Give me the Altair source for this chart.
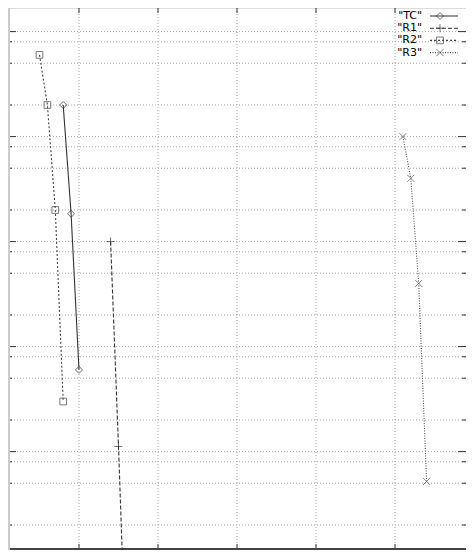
import altair as alt
import pandas as pd

# ---------------- data ----------------
series_names = ["TC", "R1", "R2", "R3"]
tc_x = [0.8, 0.9, 1.0]
tc_y = [10.0, 0.92, 0.030]
r1_x = [1.4, 1.5, 1.6]
r1_y = [0.50, 0.0056, 0.00004]
r2_x = [0.5, 0.6, 0.7, 0.8]
r2_y = [30.0, 10.0, 1.0, 0.015]
r3_x = [5.1, 5.2, 5.3, 5.4]
r3_y = [5.0, 2.0, 0.20, 0.0026]

x_grid = [1, 2, 3, 4, 5]
y_grid = [50, 40, 25, 10, 5, 4, 2.5, 1, 0.5, 0.4, 0.25, 0.1,
          0.05, 0.04, 0.025, 0.01, 0.005, 0.004, 0.0025, 0.001]
y_major = [50, 5, 0.5, 0.05, 0.005]
y_minor = [v for v in y_grid if v not in y_major]

# ---------------- layout / style ----------------
W, H = 458, 542
x_domain = [0.1013, 5.8987]
y_domain = [5.78e-4, 83.9]

xs = alt.Scale(domain=x_domain, nice=False, zero=False)
ys = alt.Scale(type="log", domain=y_domain, nice=False)

dashes = {"TC": [1, 0], "R1": [4, 2], "R2": [2, 2], "R3": [1, 1.5]}
colors = {"TC": "#333333", "R1": "#333333", "R2": "#444444", "R3": "#555555"}
PLUS = "M-1,0H1M0,-1V1"
XMARK = "M-1,-1L1,1M-1,1L1,-1"
shapes = {"TC": "diamond", "R1": PLUS, "R2": "square", "R3": XMARK}
sizes = {"TC": 49, "R1": 64, "R2": 45, "R3": 49}
grid_color = "#a8a8a8"

rows = []
for name, xv, yv in [("TC", tc_x, tc_y), ("R1", r1_x, r1_y),
                     ("R2", r2_x, r2_y), ("R3", r3_x, r3_y)]:
    for a, b in zip(xv, yv):
        rows.append({"series": name, "x": a, "y": b})
df = pd.DataFrame(rows)

layers = []

# grid lines (dotted)
ygd = pd.DataFrame({"v": y_grid})
xgd = pd.DataFrame({"v": x_grid})
layers.append(alt.Chart(ygd).mark_rule(color=grid_color, strokeWidth=1, strokeDash=[1, 2]).encode(
    y=alt.Y("v:Q", scale=ys, axis=None), x=alt.value(0), x2=alt.value(W)))
layers.append(alt.Chart(xgd).mark_rule(color=grid_color, strokeWidth=1, strokeDash=[1, 2]).encode(
    x=alt.X("v:Q", scale=xs, axis=None), y=alt.value(0), y2=alt.value(H)))

# frame ticks (inward, like gnuplot)
ymaj = pd.DataFrame({"v": y_major})
ymin = pd.DataFrame({"v": y_minor})
tick_color = "#333333"
for data, length in [(ymaj, 8), (ymin, 4)]:
    layers.append(alt.Chart(data).mark_rule(color=tick_color, strokeWidth=1).encode(
        y=alt.Y("v:Q", scale=ys, axis=None), x=alt.value(0), x2=alt.value(length)))
    layers.append(alt.Chart(data).mark_rule(color=tick_color, strokeWidth=1).encode(
        y=alt.Y("v:Q", scale=ys, axis=None), x=alt.value(W), x2=alt.value(W - length)))
layers.append(alt.Chart(xgd).mark_rule(color=tick_color, strokeWidth=1).encode(
    x=alt.X("v:Q", scale=xs, axis=None), y=alt.value(0), y2=alt.value(5)))
layers.append(alt.Chart(xgd).mark_rule(color=tick_color, strokeWidth=1).encode(
    x=alt.X("v:Q", scale=xs, axis=None), y=alt.value(H), y2=alt.value(H - 6)))

frame = pd.DataFrame({"edge": ["frame"]})
layers.append(alt.Chart(frame).mark_rule(color="#444444", strokeWidth=2).encode(
    x=alt.value(0), x2=alt.value(W), y=alt.value(H - 1)))
layers.append(alt.Chart(frame).mark_rule(color="#cccccc", strokeWidth=2).encode(
    x=alt.value(1), y=alt.value(0), y2=alt.value(H)))

# series lines and markers
for name in series_names:
    sub = df[df.series == name]
    layers.append(alt.Chart(sub).mark_line(
        color=colors[name], strokeWidth=1.1, strokeDash=dashes[name], clip=True).encode(
        x=alt.X("x:Q", scale=xs, axis=None),
        y=alt.Y("y:Q", scale=ys, axis=None)))
    layers.append(alt.Chart(sub).mark_point(
        shape=shapes[name], filled=False, size=sizes[name], color=colors[name],
        strokeWidth=1, clip=True).encode(
        x=alt.X("x:Q", scale=xs, axis=None),
        y=alt.Y("y:Q", scale=ys, axis=None)))

# legend (gnuplot style key, top right)
for i, name in enumerate(series_names):
    ry = 8 + i * 12.2
    ld = pd.DataFrame({"label": ['"' + name + '"']})
    layers.append(alt.Chart(ld).mark_text(
        align="right", baseline="middle", font="DejaVu Sans", fontSize=11,
        fill="black").encode(
        text="label:N", x=alt.value(414), y=alt.value(ry)))
    layers.append(alt.Chart(ld).mark_rule(
        color=colors[name], strokeWidth=1.1, strokeDash=dashes[name]).encode(
        x=alt.value(422), x2=alt.value(450), y=alt.value(ry)))
    layers.append(alt.Chart(ld).mark_point(
        shape=shapes[name], filled=False, size=sizes[name], color=colors[name],
        strokeWidth=1).encode(x=alt.value(432), y=alt.value(ry)))

chart = alt.layer(*layers).properties(
    width=W, height=H,
    autosize=alt.AutoSizeParams(type="none"),
    padding=0,
).configure_view(stroke="transparent").configure(background="white")

chart.save("out.html", embed_options={"renderer": "svg", "actions": False})
